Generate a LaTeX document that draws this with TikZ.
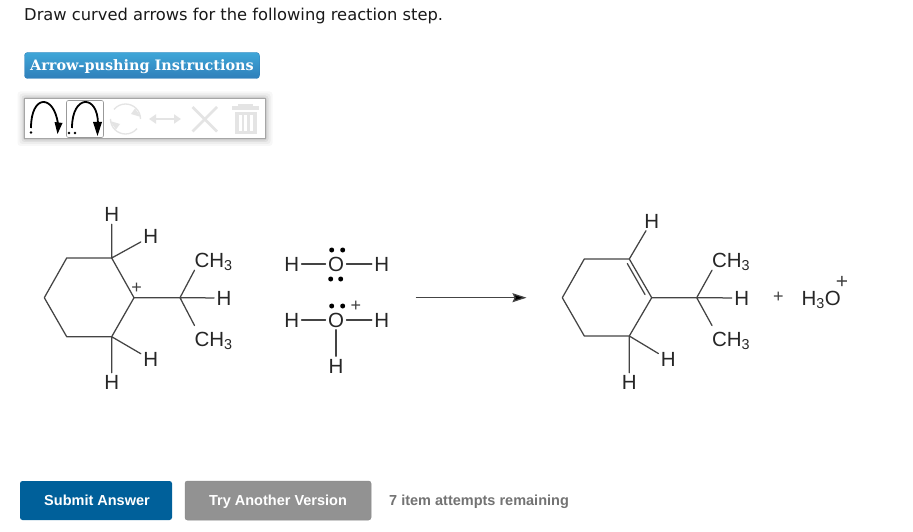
\documentclass[tikz,border=0pt]{standalone}
\usepackage{fontspec}
\setmainfont{Liberation Sans}
\newfontfamily\verd{DejaVu Sans}
\newfontfamily\verdser{DejaVu Serif}
\usetikzlibrary{arrows.meta,calc}
\definecolor{bondc}{HTML}{444444}
\definecolor{submitc}{HTML}{00609A}
\definecolor{tryc}{HTML}{929292}
\definecolor{iconoff}{HTML}{E4E4E4}
\definecolor{instrtop}{HTML}{3FA6D8}
\definecolor{instrbot}{HTML}{2F7FBA}
\tikzset{
  x=1pt,y=-1pt,
  bond/.style={draw=bondc,line width=1.25pt,line cap=round},
  atom/.style={inner sep=0pt,outer sep=2.5pt,font=\fontsize{20.5}{20.5}\selectfont,text=black!85,text height=14.5pt,text depth=0pt},
  group/.style={inner sep=0pt,outer sep=0pt,anchor=base west,font=\fontsize{20.5}{20.5}\selectfont,text=black!85},
  chg/.style={inner sep=0pt,font=\fontsize{18}{18}\selectfont,text=black!75},
  lp/.style={circle,fill=black,inner sep=0pt,minimum size=5pt},
  webbtn/.style={rounded corners=2.5pt,inner sep=0pt,font=\bfseries\fontsize{14.5}{14.5}\selectfont,text=white},
  officon/.style={draw=iconoff,line width=2.2pt},
  onicon/.style={draw=black,line width=1.8pt}
}
\begin{document}
\begin{tikzpicture}
\useasboundingbox[fill=white] (0,0) rectangle (913,532);
% header
\node[anchor=base west,inner sep=0pt,font=\verd\fontsize{16.3}{16.3}\selectfont,text=black!90] (title) at (24,21) {Draw curved arrows for the following reaction step.};
\shade[top color=instrtop,bottom color=instrbot,rounded corners=3pt,draw=instrbot] (24.5,52.5) rectangle (259.5,78.5);
\node[inner sep=0pt,font=\verdser\bfseries\fontsize{14.4}{14.4}\selectfont,text=white] (instr) at (142,67) {Arrow-pushing Instructions};
% toolbar
\foreach \g/\o in {7/0.03,5/0.04,3/0.06,1.5/0.08}
  \fill[black,opacity=\o,rounded corners=3pt] (24.5-\g,98.5-\g) rectangle (265.5+\g,139+\g);
\draw[draw=black!35,fill=white,line width=1pt] (24.5,98.5) rectangle (265.5,139);
\draw[draw=black!40,line width=.6pt,rounded corners=2pt] (66.5,100.5) rectangle (103.5,137.5);
\draw[onicon] (31,128) .. controls (31,94) and (54,94) .. (58,124);
\fill[black] (62.5,123) -- (54.5,122) -- (57.5,134) -- cycle;
\fill[black] (31,132.5) circle (1.4);
\draw[onicon] (72,128) .. controls (72,94) and (98,94) .. (98,124);
\fill[black] (93,122) -- (102,122) -- (97.5,136) -- cycle;
\fill[black] (69,133) circle (1.4); \fill[black] (75,133) circle (1.4);
\draw[iconoff,line width=1.3pt] (110.5,119) arc (180:40:15);
\draw[iconoff,line width=1.3pt] (140.5,119) arc (0:-140:15);
\fill[iconoff] (141,117) -- (135,108.5) -- (131,114) -- cycle;
\fill[iconoff] (110,121) -- (116,129.5) -- (120,124) -- cycle;
\draw[officon,{Triangle[length=7pt,width=9pt]}-{Triangle[length=7pt,width=9pt]}] (149,119) -- (181,119);
\draw[officon,line width=2.5pt] (192.5,107) -- (217,131.5) (217,107) -- (192.5,131.5);
\fill[iconoff] (232,106.5) rectangle (259,110.5);
\fill[iconoff] (238,104) rectangle (253,106.5);
\fill[iconoff] (234.5,112.5) rectangle (256.5,134);
\fill[white] (238.5,115.5) rectangle (241.5,131);
\fill[white] (244,115.5) rectangle (247,131);
\fill[white] (249.5,115.5) rectangle (252.5,131);

% left cation
\coordinate (a1) at (66.7,258); \coordinate (a2) at (111.7,258); \coordinate (a3) at (134,297.7);
\coordinate (a4) at (111.7,336.7); \coordinate (a5) at (66.7,336.7); \coordinate (a6) at (44.3,297.7);
\coordinate (ac) at (180,297.7);
\draw[bond,line join=round] (a1) -- (a2) -- (a3) -- (a4) -- (a5) -- (a6) -- cycle;
\node[atom] (ah1) at (111.7,214.5) {H};
\node[atom] (ah2) at (150.7,236.5) {H};
\node[atom] (ah3) at (150.7,359.5) {H};
\node[atom] (ah4) at (111.7,382.5) {H};
\node[atom] (ah5) at (224,298) {H};
\node[group] (am1) at (194.5,267) {CH\textsubscript{3}};
\node[group,text height=20.5pt] (am2) at (194.5,346) {CH\textsubscript{3}};
\node[chg] (aplus) at (136.7,288.3) {+};
\draw[bond] (a2) -- (ah1) (a2) -- (ah2) (a4) -- (ah3) (a4) -- (ah4);
\draw[bond] (a3) -- (ac) (ac) -- (ah5) (ac) -- (am1.south west) (ac) -- (am2.north west);

% water
\node[atom] (wh1) at (291.7,264) {H};
\node[atom] (wo) at (336,264) {O};
\node[atom] (wh2) at (381.7,264) {H};
\draw[bond] (wh1) -- (wo) (wo) -- (wh2);
\node[lp] (wl1) at (331.7,250) {}; \node[lp] (wl2) at (342.7,250) {};
\node[lp] (wl3) at (330.7,279) {}; \node[lp] (wl4) at (340.7,279) {};
% hydronium
\node[atom] (hh1) at (291.7,320) {H};
\node[atom] (ho) at (336,320) {O};
\node[atom] (hh2) at (381.7,320) {H};
\node[atom] (hh3) at (336,366) {H};
\draw[bond] (hh1) -- (ho) (ho) -- (hh2) (ho) -- (hh3);
\node[lp] (hl1) at (331.7,306) {}; \node[lp] (hl2) at (342.7,306) {};
\node[chg] (hplus) at (356,306.5) {+};

% reaction arrow
\coordinate (rs) at (415.7,297.7); \coordinate (re) at (526.5,297.7);
\draw[draw=bondc,line width=1.25pt,-{Stealth[length=14pt,width=9pt,inset=2pt,fill=black]}] (rs) -- (re);

% product
\coordinate (b1) at (584.3,259); \coordinate (b2) at (629.3,259); \coordinate (b3) at (651.7,297.7);
\coordinate (b4) at (629.3,336); \coordinate (b5) at (584.3,336); \coordinate (b6) at (562.3,297.7);
\coordinate (bc) at (696.7,297.7);
\coordinate (d1) at (627.3,263.5); \coordinate (d2) at (645,294.5);
\draw[bond,line join=round] (b1) -- (b2) -- (b3) -- (b4) -- (b5) -- (b6) -- cycle;
\draw[bond] (d1) -- (d2);
\node[atom] (bh1) at (651.7,221) {H};
\node[atom] (bh3) at (668.3,359.5) {H};
\node[atom] (bh4) at (629.3,382.5) {H};
\node[atom] (bh5) at (741.7,298) {H};
\node[group] (bm1) at (712,267) {CH\textsubscript{3}};
\node[group,text height=20.5pt] (bm2) at (712,346) {CH\textsubscript{3}};
\draw[bond] (b2) -- (bh1) (b4) -- (bh3) (b4) -- (bh4);
\draw[bond] (b3) -- (bc) (bc) -- (bh5) (bc) -- (bm1.south west) (bc) -- (bm2.north west);
\node[chg] (pl) at (778.3,297.7) {+};
\node[group] (hyd) at (801.5,305) {H\textsubscript{3}O};
\node[chg,font=\fontsize{21}{21}\selectfont] (hydp) at (842,282) {+};

% footer
\node[webbtn,fill=submitc,minimum width=152pt,minimum height=39pt,text height=10.5pt,text depth=0pt] (submit) at (96,500.5) {\hspace*{2pt}Submit Answer};
\node[webbtn,fill=tryc,draw=black!45,line width=.5pt,minimum width=186pt,minimum height=39pt,text height=10.5pt,text depth=0pt] (try) at (278,500.5) {Try Another Version};
\node[anchor=west,inner sep=0pt,font=\bfseries\fontsize{14.5}{14.5}\selectfont,text=black!55] (rem) at (389,501.5) {7 item attempts remaining};
\end{tikzpicture}
\end{document}
